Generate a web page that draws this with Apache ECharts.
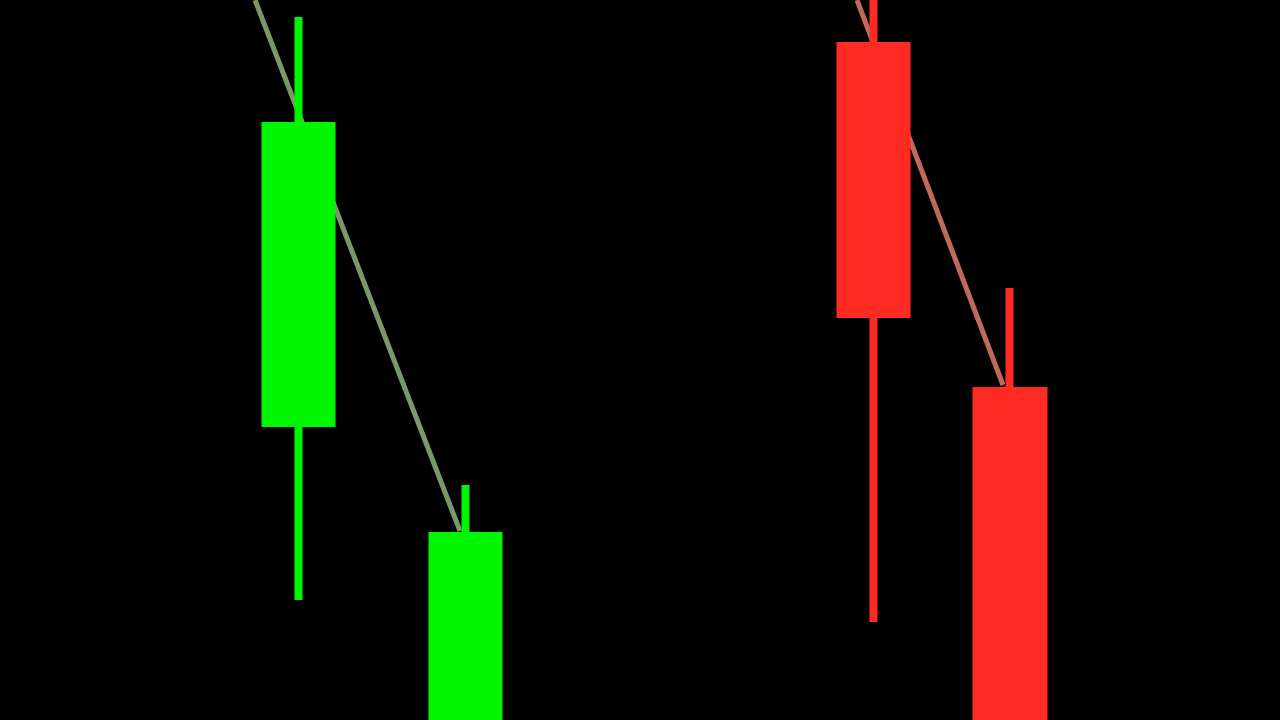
<!DOCTYPE html>
<html>
<head>
<meta charset="utf-8">
<script src="https://cdn.jsdelivr.net/npm/echarts@6/dist/echarts.min.js"></script>
<style>
html,body{margin:0;padding:0;background:#000;}
#chart{width:1280px;height:720px;}
</style>
</head>
<body>
<div id="chart"></div>
<script>
// time positions of the candles
var times = [29.85, 46.55, 87.35, 101.0];
// [open, close, low, high]
var opens  = [129.7, 96.0, 167.4, 132.9];
var closes = [159.4, 118.4, 140.6, 96.0];
var lows   = [112.0, 94.0, 109.8, 94.0];
var highs  = [170.3, 123.5, 174.0, 143.2];
// trend lines [time, price]
var greenTrend = [[25.5, 172.0], [46.0, 118.9]];
var redTrend   = [[85.7, 172.0], [100.3, 133.5]];

var candleData = times.map(function (t, i) {
  return [t, opens[i], closes[i], lows[i], highs[i]];
});

var chart = echarts.init(document.getElementById('chart'));
chart.setOption({
  backgroundColor: '#000000',
  animation: false,
  grid: { left: 0, right: 0, top: 0, bottom: 0 },
  xAxis: {
    type: 'value', min: 0, max: 128,
    axisLine: { show: false }, axisTick: { show: false },
    axisLabel: { show: false }, splitLine: { show: false }
  },
  yAxis: {
    type: 'value', min: 100, max: 172,
    axisLine: { show: false }, axisTick: { show: false },
    axisLabel: { show: false }, splitLine: { show: false }
  },
  series: [
    {
      type: 'line', data: greenTrend, symbol: 'none', z: 1,
      lineStyle: { color: '#7a9868', width: 5 }
    },
    {
      type: 'line', data: redTrend, symbol: 'none', z: 1,
      lineStyle: { color: '#c06a5c', width: 5 }
    },
    {
      type: 'candlestick', z: 5,
      data: candleData,
      encode: { x: 0, y: [1, 2, 3, 4] },
      barWidth: 67,
      itemStyle: {
        color: '#00f500', color0: '#ff2a22',
        borderColor: '#00f500', borderColor0: '#ff2a22',
        borderWidth: 8
      }
    }
  ]
});
</script>
</body>
</html>
